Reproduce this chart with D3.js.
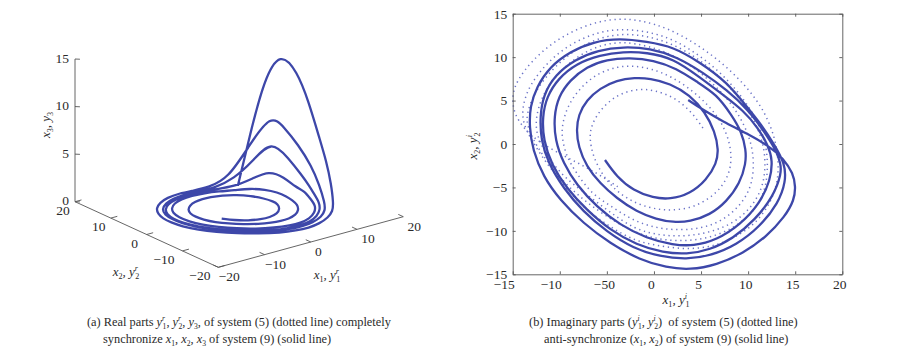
<!DOCTYPE html>
<html>
<head>
<meta charset="utf-8">
<title>Synchronization of system (5) and system (9)</title>
<style>
    body { margin: 0; background: #fff; }
    svg { display: block; }
    text { font-family: "Liberation Serif", serif; fill: #2a2a2a; }
</style>
</head>
<body>
<script src="https://d3js.org/d3.v7.min.js"></script>
<script>
    // solid line, one row per turn of the spiral
    const x1 = [
        -5.2, -3.96, -2.19, -0.07, 1.7, 3.82, 5.59, 6.65, 6.86,
        6.48, 5.41, 3.82, 1.7, -0.42, -2.02, -3.96, -5.73, -7.15, -8.03, -8.24, -8.03, -7.15, -5.73, -3.96, -1.84, 0.28, 2.05, 3.82, 5.94, 7.71, 9.13, 9.77,
        9.77, 9.31, 8.24, 6.65, 4.53, 2.41, -0.07, -2.55, -5.02, -7.15, -8.92, -10.16, -10.62, -10.51, -9.62, -8.21, -6.09, -3.61, -0.78, 2.05, 4.18, 6.65, 9.13, 11.25, 12.38,
        12.6, 12.14, 11.08, 9.48, 7.36, 4.88, 2.05, -0.78, -3.26, -5.73, -8.21, -10.16, -11.39, -11.85, -11.75, -10.86, -9.27, -7.15, -4.67, -1.84, 0.99, 3.47, 5.94, 8.42, 10.72, 12.67,
        13.55, 13.45, 12.95, 11.78, 10.01, 7.71, 5.24, 2.41, -0.42, -3.26, -5.91, -8.39, -10.51, -11.75, -12.1, -12.0, -11.22, -9.62, -7.5, -5.02, -2.19, 0.64, 3.47, 5.94, 8.78, 11.25, 13.2,
        14.01, 13.91, 12.74, 11.43, 10.01, 7.71, 4.88, 2.05, -0.78, -3.61, -6.44, -8.92, -11.04, -12.46, -13.16, -13.23, -12.88, -11.75, -9.98, -7.5, -4.67, -1.49, 1.34, 3.82, 6.65, 9.48, 11.96, 13.91,
        14.9, 15.04, 14.79, 13.73, 12.31, 9.84, 7.36, 5.24, 3.64
    ];
    const x2 = [
        -1.84, -3.76, -5.37, -6.21, -6.37, -5.75, -4.14, -2.22, -0.69,
        1.42, 3.72, 5.64, 6.98, 7.56, 7.63, 7.36, 6.41, 5.06, 3.34, 1.61, -0.31, -2.61, -4.53, -6.25, -7.79, -8.67, -9.01, -8.94, -8.17, -6.64, -4.53, -2.22,
        -0.69, 1.42, 3.34, 5.72, 7.17, 8.71, 9.67, 9.93, 9.74, 8.9, 7.36, 5.45, 3.15, 0.46, -2.22, -4.72, -7.21, -9.32, -10.86, -11.62, -11.74, -11.05, -9.32, -6.83, -4.14,
        -1.84, -0.23, 1.84, 3.87, 5.64, 7.67, 9.86, 10.55, 10.63, 10.24, 9.28, 7.56, 5.45, 3.15, 0.46, -2.42, -5.1, -7.59, -9.9, -11.62, -12.5, -12.7, -12.2, -10.86, -8.75, -6.06,
        -3.38, -2.22, -0.69, 1.34, 3.95, 6.25, 8.21, 10.05, 11.01, 11.2, 10.82, 9.74, 7.94, 5.64, 3.15, 0.46, -2.22, -5.1, -7.79, -10.09, -12.01, -12.97, -13.27, -12.89, -11.62, -9.51, -6.83,
        -4.33, -2.22, 0, 2.19, 4.1, 7.17, 9.4, 11.2, 11.78, 12.16, 11.78, 10.63, 8.9, 6.6, 4.3, 1.99, -0.69, -3.76, -6.44, -9.13, -11.43, -13.35, -14.23, -14.5, -13.92, -12.58, -10.66, -8.36,
        -6.44, -4.91, -3.38, -1.65, -0.31, 1.23, 2.57, 3.91, 5.06
    ];
    const x3 = [
        0.02, 0.02, 0.02, 0.02, 0.02, 0.02, 0.02, 0.02, 0.02,
        0.03, 0.03, 0.03, 0.03, 0.03, 0.03, 0.03, 0.03, 0.03, 0.03, 0.03, 0.03, 0.03, 0.03, 0.03, 0.03, 0.03, 0.03, 0.03, 0.03, 0.03, 0.03, 0.03,
        0.15, 0.3, 0.4, 0.3, 0.15, 0.06, 0.03, 0.03, 0.03, 0.03, 0.03, 0.03, 0.03, 0.03, 0.03, 0.03, 0.03, 0.03, 0.03, 0.03, 0.03, 0.03, 0.03, 0.03, 0.05,
        0.6, 0.7, 1.6, 2.1, 1.3, 0.4, 0.1, 0.03, 0.03, 0.03, 0.03, 0.03, 0.03, 0.03, 0.03, 0.03, 0.03, 0.03, 0.03, 0.03, 0.03, 0.03, 0.03, 0.03, 0.03, 0.05,
        0.4, 1.05, 2.0, 3.5, 5.3, 2.9, 1.1, 0.15, 0.03, 0.03, 0.03, 0.03, 0.03, 0.03, 0.03, 0.03, 0.03, 0.03, 0.03, 0.03, 0.03, 0.03, 0.03, 0.03, 0.03, 0.03, 0.1,
        1.4, 3.1, 5.1, 6.7, 8.0, 4.4, 0.95, 0.1, 0.03, 0.03, 0.03, 0.03, 0.03, 0.03, 0.03, 0.03, 0.03, 0.03, 0.03, 0.03, 0.03, 0.03, 0.03, 0.03, 0.03, 0.03, 0.03, 0.2,
        1.8, 3.9, 6.0, 9.8, 12.9, 15.1, 12.2, 6.2, 1.1
    ];

    // dotted line in panel (b)
    const y1i = [
        5.2, 3.96, 2.19, 0.07, -1.7, -3.82, -5.59, -6.65, -6.86,
        -6.48, -5.41, -3.82, -1.7, 0.42, 2.02, 3.96, 5.73, 7.15, 8.03, 8.24, 8.03, 7.15, 5.73, 3.96, 1.84, -0.28, -2.05, -3.82, -5.94, -7.71, -9.13, -9.77,
        -9.77, -9.31, -8.24, -6.65, -4.53, -2.41, 0.07, 2.55, 5.02, 7.15, 8.92, 10.16, 10.62, 10.51, 9.62, 8.21, 6.09, 3.61, 0.78, -2.05, -4.18, -6.65, -9.13, -11.25, -12.38,
        -12.6, -12.14, -11.08, -9.48, -7.36, -4.88, -2.05, 0.78, 3.26, 5.73, 8.21, 10.16, 11.39, 11.85, 11.75, 10.86, 9.27, 7.15, 4.67, 1.84, -0.99, -3.47, -5.94, -8.42, -10.72, -12.67,
        -13.55, -13.45, -12.95, -11.78, -10.01, -7.71, -5.24, -2.41, 0.42, 3.26, 5.91, 8.39, 10.51, 11.75, 12.1, 12.0, 11.22, 9.62, 7.5, 5.02, 2.19, -0.64, -3.47, -5.94, -8.78, -11.25, -13.2,
        -14.01, -13.91, -12.74, -11.43, -10.01, -7.71, -4.88, -2.05, 0.78, 3.61, 6.44, 8.92, 11.04, 12.46, 13.16, 13.23, 12.88, 11.75, 9.98, 7.5, 4.67, 1.49, -1.34, -3.82, -6.65, -9.48, -11.96, -13.91,
        -14.9, -15.04, -14.79, -13.73, -12.31, -9.84, -7.36, -5.24, -3.64
    ];
    const y2i = [
        1.84, 3.76, 5.37, 6.21, 6.37, 5.75, 4.14, 2.22, 0.69,
        -1.42, -3.72, -5.64, -6.98, -7.56, -7.63, -7.36, -6.41, -5.06, -3.34, -1.61, 0.31, 2.61, 4.53, 6.25, 7.79, 8.67, 9.01, 8.94, 8.17, 6.64, 4.53, 2.22,
        0.69, -1.42, -3.34, -5.72, -7.17, -8.71, -9.67, -9.93, -9.74, -8.9, -7.36, -5.45, -3.15, -0.46, 2.22, 4.72, 7.21, 9.32, 10.86, 11.62, 11.74, 11.05, 9.32, 6.83, 4.14,
        1.84, 0.23, -1.84, -3.87, -5.64, -7.67, -9.86, -10.55, -10.63, -10.24, -9.28, -7.56, -5.45, -3.15, -0.46, 2.42, 5.1, 7.59, 9.9, 11.62, 12.5, 12.7, 12.2, 10.86, 8.75, 6.06,
        3.38, 2.22, 0.69, -1.34, -3.95, -6.25, -8.21, -10.05, -11.01, -11.2, -10.82, -9.74, -7.94, -5.64, -3.15, -0.46, 2.22, 5.1, 7.79, 10.09, 12.01, 12.97, 13.27, 12.89, 11.62, 9.51, 6.83,
        4.33, 2.22, 0, -2.19, -4.1, -7.17, -9.4, -11.2, -11.78, -12.16, -11.78, -10.63, -8.9, -6.6, -4.3, -1.99, 0.69, 3.76, 6.44, 9.13, 11.43, 13.35, 14.23, 14.5, 13.92, 12.58, 10.66, 8.36,
        6.44, 4.91, 3.38, 1.65, 0.31, -1.23, -2.57, -3.91, -5.06
    ];

    const groundTicks = [-20, -10, 0, 10, 20];
    const heightTicks = [0, 5, 10, 15];
    const xTicksB = [-15, -10, -5, 0, 5, 10, 15, 20];
    const xTickLabelsB = ['\u221215', '\u221210', '\u221250', '0', '5', '10', '15', '20'];
    const yTicksB = [-15, -10, -5, 0, 5, 10, 15];
    const yTickLabelsB = ['\u221215', '\u221210', '\u22125', '0', '5', '10', '15'];

    // i italic, b subscript, p superscript, n plain; a number moves the piece back
    const captionA1 = [['(a) Real parts ', 'n'], ['y', 'i'], ['r', 'p'], ['1', 'b', -2.5], [', ', 'n'], ['y', 'i'], ['r', 'p'], ['2', 'b', -2.5], [', ', 'n'], ['y', 'i'], ['3', 'b'], [', ', 'n'], ['of system (5) (dotted line) completely', 'n']];
    const captionA2 = [['synchronize ', 'n'], ['x', 'i'], ['1', 'b'], [', ', 'n'], ['x', 'i'], ['2', 'b'], [', ', 'n'], ['x', 'i'], ['3', 'b'], [' of system (9) (solid line)', 'n']];
    const captionB1 = [['(b) Imaginary parts (', 'n'], ['y', 'i'], ['i', 'p'], ['1', 'b', -1.5], [', ', 'n'], ['y', 'i'], ['i', 'p'], ['2', 'b', -1.5], [')  of system (5) (dotted line)', 'n']];
    const captionB2 = [['anti-synchronize (', 'n'], ['x', 'i'], ['1', 'b'], [', ', 'n'], ['x', 'i'], ['2', 'b'], [') of system (9) (solid line)', 'n']];
    const labelGround1 = [['x', 'i'], ['1', 'b'], [', ', 'i'], ['y', 'i'], ['r', 'p'], ['1', 'b', -2.5]];
    const labelGround2 = [['x', 'i'], ['2', 'b'], [', ', 'i'], ['y', 'i'], ['r', 'p'], ['2', 'b', -2.5]];
    const labelHeight = [['x', 'i'], ['3', 'b'], [', ', 'i'], ['y', 'i'], ['3', 'b']];
    const labelXB = [['x', 'i'], ['1', 'b'], [', ', 'i'], ['y', 'i'], ['i', 'p'], ['1', 'b', -1.5]];
    const labelYB = [['x', 'i'], ['2', 'b'], [', ', 'i'], ['y', 'i'], ['i', 'p'], ['2', 'b', -1.5]];

    const blue = '#3d47a9';
    const axisColor = '#555';
    const width = 899, height = 354;

    const svg = d3.select('body').append('svg')
        .attr('width', width)
        .attr('height', height);

    function richText(parent, pieces, x, y, size, anchor, rotate) {
        const t = parent.append('text')
            .attr('font-size', size)
            .attr('text-anchor', anchor || 'start')
            .attr('transform', 'translate(' + x + ',' + y + ')' + (rotate ? ' rotate(' + rotate + ')' : ''));
        pieces.forEach(p => {
            const s = t.append('tspan').text(p[0]).style('white-space', 'pre');
            if (p[1] === 'i') s.attr('font-style', 'italic');
            if (p[1] === 'b') s.attr('font-size', size * 0.62).attr('baseline-shift', -size * 0.22);
            if (p[1] === 'p') s.attr('font-size', size * 0.62).attr('font-style', 'italic').attr('baseline-shift', size * 0.38);
            if (p[2]) s.attr('dx', p[2]);
        });
    }

    // ---- panel (a): oblique projection, one scale per screen direction
    const originA = {x: 218.3, y: 267.3};
    const sx1 = d3.scaleLinear().domain([-20, 20]).range([0, 185]);
    const sx2 = d3.scaleLinear().domain([-20, 20]).range([0, -143.3]);
    const sy1 = d3.scaleLinear().domain([-20, 20]).range([0, -50.6]);
    const sy2 = d3.scaleLinear().domain([-20, 20]).range([0, -65.6]);
    const sz = d3.scaleLinear().domain([0, 15]).range([0, -142.7]);

    const projectX = (a, b) => originA.x + sx1(a) + sx2(b);
    const projectY = (a, b, c) => originA.y + sy1(a) + sy2(b) + sz(c);

    const panelA = svg.append('g');

    const axisLine = (a0, b0, c0, a1, b1, c1) => panelA.append('line')
        .attr('x1', projectX(a0, b0)).attr('y1', projectY(a0, b0, c0))
        .attr('x2', projectX(a1, b1)).attr('y2', projectY(a1, b1, c1))
        .attr('stroke', axisColor).attr('stroke-width', 0.9);

    axisLine(-20, -20, 0, 20, -20, 0);
    axisLine(-20, -20, 0, -20, 20, 0);
    axisLine(-20, 20, 0, -20, 20, 15);

    groundTicks.forEach(v => {
        const label = String(v).replace('-', '\u2212');
        // x1 axis
        axisLine(v, -20, 0, v, -18.6, 0);
        panelA.append('text').attr('font-size', 13.5).attr('text-anchor', 'middle')
            .attr('x', projectX(v, -20) + (v === 0 ? 7.5 : 11)).attr('y', projectY(v, -20, 0) + 14).text(label);
        // x2 axis
        axisLine(-20, v, 0, -18.6, v, 0);
        panelA.append('text').attr('font-size', 13.5).attr('text-anchor', 'middle')
            .attr('x', projectX(-20, v) + (v < 0 ? -18.4 : -12)).attr('y', projectY(-20, v, 0) + 13).text(label);
    });
    heightTicks.forEach(v => {
        axisLine(-20, 20, v, -19.4, 19.4, v);
        panelA.append('text').attr('font-size', 13.5).attr('text-anchor', 'end')
            .attr('x', projectX(-20, 20) - 6).attr('y', projectY(-20, 20, v) + 3.5).text(v);
    });

    panelA.append('path')
        .datum(d3.range(x1.length))
        .attr('fill', 'none')
        .attr('stroke', blue)
        .attr('stroke-width', 2.3)
        .attr('d', d3.line()
            .x(i => projectX(x1[i], x2[i]))
            .y(i => projectY(x1[i], x2[i], x3[i]))
            .curve(d3.curveBasis));

    richText(panelA, labelGround1, 327, 279, 13, 'middle');
    richText(panelA, labelGround2, 126, 276, 13, 'middle');
    richText(panelA, labelHeight, 50, 125, 13, 'middle', -90);

    // ---- panel (b)
    const xB = d3.scaleLinear().domain([-15, 20]).range([512.7, 842.3]);
    const yB = d3.scaleLinear().domain([-15, 15]).range([274.3, 13.7]);

    const panelB = svg.append('g');

    const lineB = d3.line()
        .x(d => xB(d[0]))
        .y(d => yB(d[1]))
        .curve(d3.curveBasis);

    panelB.append('path')
        .datum(y1i.map((v, i) => [v, y2i[i]]))
        .attr('fill', 'none')
        .attr('stroke', '#6c74c8')
        .attr('stroke-width', 1.5)
        .attr('stroke-dasharray', '1.3 3.7')
        .attr('d', lineB);

    panelB.append('path')
        .datum(x1.map((v, i) => [v, x2[i]]))
        .attr('fill', 'none')
        .attr('stroke', blue)
        .attr('stroke-width', 2.3)
        .attr('d', lineB);

    const styleAxis = g => {
        g.selectAll('path').attr('stroke', axisColor).attr('stroke-width', 0.9);
        g.selectAll('line').attr('stroke', axisColor).attr('stroke-width', 0.9);
        g.selectAll('text').attr('font-size', 13.5).attr('font-family', '"Liberation Serif", serif').attr('fill', '#2a2a2a');
    };

    panelB.append('g')
        .attr('transform', 'translate(0,' + yB(-15) + ')')
        .call(d3.axisBottom(xB).tickValues(xTicksB).tickSizeOuter(0).tickSizeInner(-3).tickPadding(5)
            .tickFormat((d, i) => xTickLabelsB[i]))
        .call(styleAxis)
        .call(g => g.selectAll('text').attr('dx', d => d < -5 ? -9 : -3));
    panelB.append('g')
        .attr('transform', 'translate(0,' + yB(15) + ')')
        .call(d3.axisTop(xB).tickValues(xTicksB).tickSizeOuter(0).tickSizeInner(-3).tickFormat(''))
        .call(styleAxis);
    panelB.append('g')
        .attr('transform', 'translate(' + xB(-15) + ',0)')
        .call(d3.axisLeft(yB).tickValues(yTicksB).tickSizeOuter(0).tickSizeInner(-3).tickPadding(5.5)
            .tickFormat((d, i) => yTickLabelsB[i]))
        .call(styleAxis);
    panelB.append('g')
        .attr('transform', 'translate(' + xB(20) + ',0)')
        .call(d3.axisRight(yB).tickValues(yTicksB).tickSizeOuter(0).tickSizeInner(-3).tickFormat(''))
        .call(styleAxis);

    richText(panelB, labelXB, 676, 304, 13, 'middle');
    richText(panelB, labelYB, 477, 146, 13, 'middle', -90);

    // ---- captions
    richText(svg, captionA1, 87, 326, 12.35);
    richText(svg, captionA2, 103, 343, 12.35);
    richText(svg, captionB1, 529, 326, 12.4);
    richText(svg, captionB2, 544, 343, 12.4);
</script>
</body>
</html>
